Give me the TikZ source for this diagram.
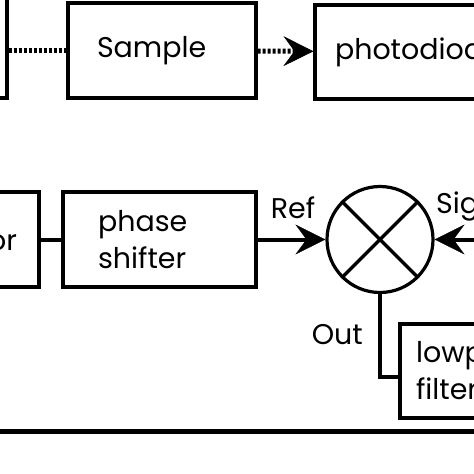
\documentclass[tikz,border=0pt]{standalone}
\usepackage{fontspec}
\setmainfont{Poppins}
\usetikzlibrary{arrows.meta}

\begin{document}
\begin{tikzpicture}[x=1pt,y=-1pt,line join=miter,
  every node/.style={inner sep=0pt,font=\fontsize{28.5}{37}\selectfont},
  blk/.style={draw,rectangle,line width=3.2pt,minimum height=95pt,align=left},
  wire/.style={line width=4pt},
  beam/.style={line width=5pt,dash pattern=on 3pt off 2pt},
  tip/.style={-{Stealth[length=30pt,width=30pt,inset=11pt,line width=0.5pt]}}]
  \useasboundingbox (0,0) rectangle (474,474);
  \clip (0,0) rectangle (474,474);
  % optical path
  \node[blk,minimum width=67pt,minimum height=103pt] (source) at (-26.5,46.5) {};
  \node[blk,inner xsep=29pt,text width=130pt] (sample) at (162,50.5) {Sample};
  \node[blk,inner xsep=20pt,text width=205pt,minimum height=94pt] (photodiode) at (437.5,52) {photodiode};
  \draw[beam] (sample.west -| source.east) -- (sample.west);
  \draw[beam,tip] (sample) -- (photodiode);
  % lock-in part
  \node[blk,inner xsep=22pt,text width=145pt,align=right] (oscillator) at (-55.5,239.5) {oscillator};
  \node[blk,inner xsep=35pt,text width=123pt] (shifter) at (159.5,239.5) {phase\\shifter};
  \node[draw,circle,line width=3.2pt,minimum size=106pt] (mixer) at (380,239.5) {};
  \draw[line width=3.2pt] (mixer.north west) -- (mixer.south east);
  \draw[line width=3.2pt] (mixer.south west) -- (mixer.north east);
  \node[blk,inner xsep=16pt,text width=128pt,minimum height=94pt] (lowpass) at (480,371) {lowpass\\filter};
  \coordinate (sigin) at (490,239.5);
  \draw[wire] (oscillator) -- (shifter);
  \draw[wire,tip] (shifter) -- (mixer);
  \draw[wire,tip] (sigin) -- (mixer);
  \draw[wire] (mixer.south) |- ([yshift=-6pt]lowpass.west);
  \node (ref) at (293,208) {Ref};
  \node[anchor=west] (sig) at (436,206) {Signal};
  \node[anchor=east] (out) at (363,335) {Out};
  % bottom rule
  \coordinate (rule west) at (0,431);
  \coordinate (rule east) at (474,431);
  \draw[line width=5pt] (rule west) -- (rule east);
\end{tikzpicture}
\end{document}
